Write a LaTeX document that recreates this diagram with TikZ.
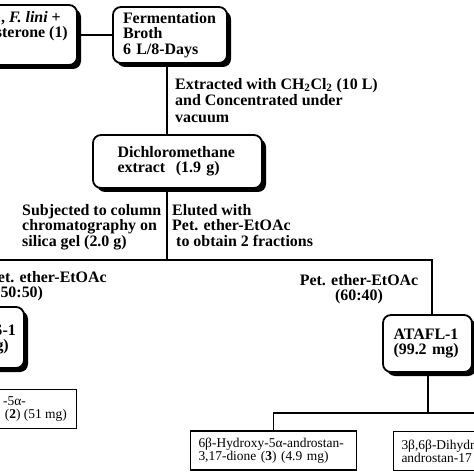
\documentclass[tikz,border=0pt]{standalone}
\usepackage{fontspec}
\setmainfont{Liberation Serif}
\usetikzlibrary{shadows}

\tikzset{
  roundbox/.style={draw, line width=1.8bp, rounded corners=8bp, fill=white, align=left,
    inner xsep=8bp, inner ysep=0bp,
    drop shadow={shadow xshift=4bp, shadow yshift=-4bp, fill=black, opacity=1},
    font=\fontsize{16}{15.5}\selectfont\bfseries},
  flatbox/.style={draw, line width=1.4bp, fill=white, align=left, text width=150bp,
    inner xsep=8bp, minimum height=39bp, font=\fontsize{13.5}{13}\selectfont},
  note/.style={align=left, inner sep=0bp, font=\fontsize{16}{15.5}\selectfont\bfseries},
  small/.style={font=\fontsize{13.5}{13}\selectfont},
  link/.style={line width=1.3bp},
}

\begin{document}
\begin{tikzpicture}[x=1bp,y=1bp]
  \useasboundingbox (0,0) rectangle (474,-474);
  \clip (0,0) rectangle (474,-474);

  % boxes with shadow
  \node[roundbox, minimum width=140bp, minimum height=60bp] (start) at (7,-35) {};
  \node[note, anchor=base east] (startA) at (61,-23) {, \textit{F. lini} +};
  \node[note, anchor=base east] (startB) at (68,-38) {sterone (1)};
  \node[roundbox, minimum width=114bp, minimum height=56bp, text width=94bp] (ferm) at (170,-35)
    {Fermentation\\Broth\\6 L/8-Days};
  \node[roundbox, minimum width=169bp, minimum height=53bp, text width=120bp] (dcm) at (177.5,-161.5)
    {Dichloromethane\\extract~ (1.9 g)};
  \node[roundbox, minimum width=100bp, minimum height=61bp] (fracAbox) at (-26,-337.5) {};
  \node[note, anchor=base east] (fracAname) at (16,-335) {S-1};
  \node[note, anchor=base east] (fracAmass) at (9,-350) {mg)};
  \node[roundbox, minimum width=89bp, minimum height=57bp, text width=68bp] (atafl) at (427.5,-343.5)
    {ATAFL-1\\(99.2 mg)};

  % plain boxes
  \node[flatbox] (prodA) at (-6.5,-409) {};
  \node[note, small, anchor=base east] (prodAa) at (26,-405) {-5α-};
  \node[note, small, anchor=base east] (prodAb) at (67,-418) {(\textbf{2}) (51 mg)};
  \node[flatbox] (prodB) at (273.5,-450.5) {6β-Hydroxy-5α-androstan-\\3,17-dione (\textbf{3}) (4.9 mg)};
  \node[flatbox] (prodC) at (476.5,-451) {3β,6β-Dihydroxy-\\androstan-17};

  % labels
  \node[note, anchor=north west, font=\fontsize{16}{16.5}\selectfont\bfseries] (extr) at (175,-78)
    {Extracted with CH\textsubscript{2}Cl\textsubscript{2} (10 L)\\and Concentrated under\\vacuum};
  \node[note, anchor=north west] (subj) at (22,-204) {Subjected to column\\chromatography on\\silica gel (2.0 g)};
  \node[note, anchor=north west] (elut) at (172,-204) {Eluted with\\Pet. ether-EtOAc\\\hspace*{4bp}to obtain 2 fractions};
  \node[note, anchor=north west] (fracA) at (-12,-271) {Pet. ether-EtOAc\\\hspace*{7bp}(50:50)};
  \node[note, anchor=north, align=center] (fracB) at (359,-274) {Pet. ether-EtOAc\\(60:40)};

  % connectors
  \coordinate (trunk) at (167,0);
  \coordinate (split) at (167,-260);
  \coordinate (splitL) at (-10,-260);
  \coordinate (splitR) at (432,-260);
  \coordinate (hub) at (428,-413);
  \draw[link] (start.east) -- (ferm.west);
  \draw[link] (ferm.south -| trunk) -- (dcm.north -| trunk);
  \draw[link] (dcm.south -| trunk) -- (split);
  \draw[link] (splitL) -- (splitR) -- (splitR |- atafl.north);
  \draw[link] (atafl.south -| hub) -- (hub);
  \draw[link] (prodB.north) |- (hub) -| (prodC.north);
\end{tikzpicture}
\end{document}
